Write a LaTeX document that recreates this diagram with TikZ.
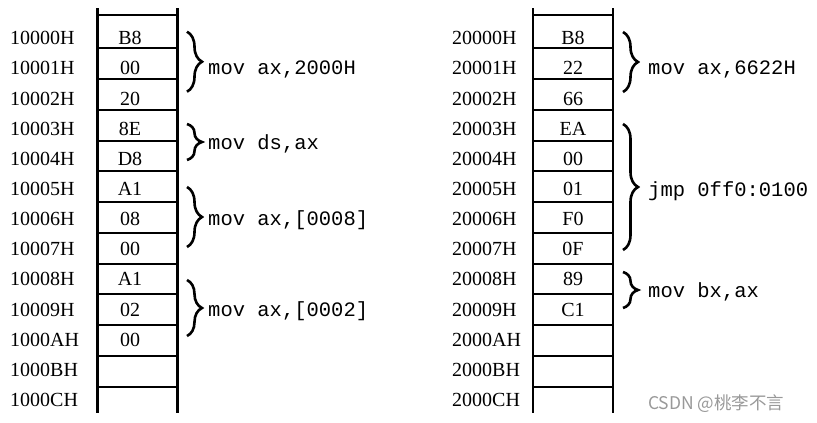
\documentclass[tikz,border=0pt]{standalone}
\usepackage{fontspec}
\setmainfont{Liberation Serif}
\setmonofont{Liberation Mono}
\newfontfamily\cjkfont{Noto Sans CJK SC}
\usetikzlibrary{decorations.pathreplacing}
\tikzset{
  addr/.style ={anchor=west, inner sep=0pt, text height=13pt, text depth=0pt,
                font=\fontsize{20}{24}\selectfont},
  byte/.style ={inner sep=0pt, text height=13pt, text depth=0pt,
                font=\fontsize{20}{24}\selectfont},
  cell/.style ={line width=2.1pt},
  brc/.style  ={decorate, decoration={brace, amplitude=15pt}, line width=2.6pt},
  ins/.style  ={anchor=west, inner sep=0pt, text height=13pt, text depth=0pt,
                font=\ttfamily\fontsize{20.5}{24}\selectfont},
  wm/.style   ={anchor=west, inner sep=0pt, text=black!40,
                font=\cjkfont\fontsize{17.5}{20}\selectfont}
}
\begin{document}
\begin{tikzpicture}[x=1pt, y=-1pt]
  \useasboundingbox (0,0) rectangle (817,423);
  % left memory, segment 1000H
  \foreach \a/\b [count=\i from 0] in {10000H/B8, 10001H/00, 10002H/20, 10003H/8E,
      10004H/D8, 10005H/A1, 10006H/08, 10007H/00, 10008H/A1, 10009H/02,
      1000AH/00, 1000BH/{}, 1000CH/{}} {
    \node[addr] (la\i) at (10, {38.3+30.14*\i}) {\a};
    \node[byte] (lb\i) at (130, {38.3+30.14*\i}) {\b};
  }
  \draw[cell] (97.5,8) -- (97.5,413);
  \draw[cell] (177.5,8) -- (177.5,413);
  \draw[cell] (97.5,15) -- (177.5,15);
  \foreach \k in {0,...,11}
    \draw[cell] (97.5,{48.3+30.76*\k}) -- (177.5,{48.3+30.76*\k});

  % right memory, segment 2000H
  \foreach \a/\b [count=\i from 0] in {20000H/B8, 20001H/22, 20002H/66, 20003H/EA,
      20004H/00, 20005H/01, 20006H/F0, 20007H/0F, 20008H/89, 20009H/C1,
      2000AH/{}, 2000BH/{}, 2000CH/{}} {
    \node[addr] (ra\i) at (452, {38.3+30.14*\i}) {\a};
    \node[byte] (rb\i) at (573, {38.3+30.14*\i}) {\b};
  }
  \draw[cell] (533.3,8) -- (533.3,413);
  \draw[cell] (613.3,8) -- (613.3,413);
  \draw[cell] (533.3,15) -- (613.3,15);
  \foreach \k in {0,...,11}
    \draw[cell] (533.3,{48.3+30.76*\k}) -- (613.3,{48.3+30.76*\k});

  % instructions
  \draw[brc] (187,31.7) -- (187,91.7);
  \node[ins] (i1) at (208,68) {mov ax,2000H};
  \draw[brc] (187,124) -- (187,160);
  \node[ins] (i2) at (208,142.5) {mov ds,ax};
  \draw[brc] (187,187) -- (187,247);
  \node[ins] (i3) at (208,219) {mov ax,[0008]};
  \draw[brc] (187,280) -- (187,336);
  \node[ins] (i4) at (208,310) {mov ax,[0002]};

  \draw[brc] (623,32) -- (623,92);
  \node[ins] (j1) at (648,68) {mov ax,6622H};
  \draw[brc] (623,124) -- (623,250);
  \node[ins] (j2) at (648,190) {jmp 0ff0:0100};
  \draw[brc] (623,272) -- (623,308);
  \node[ins] (j3) at (648,291) {mov bx,ax};

  \node[wm] (wm) at (648,404) {CSDN @桃李不言};
\end{tikzpicture}
\end{document}
